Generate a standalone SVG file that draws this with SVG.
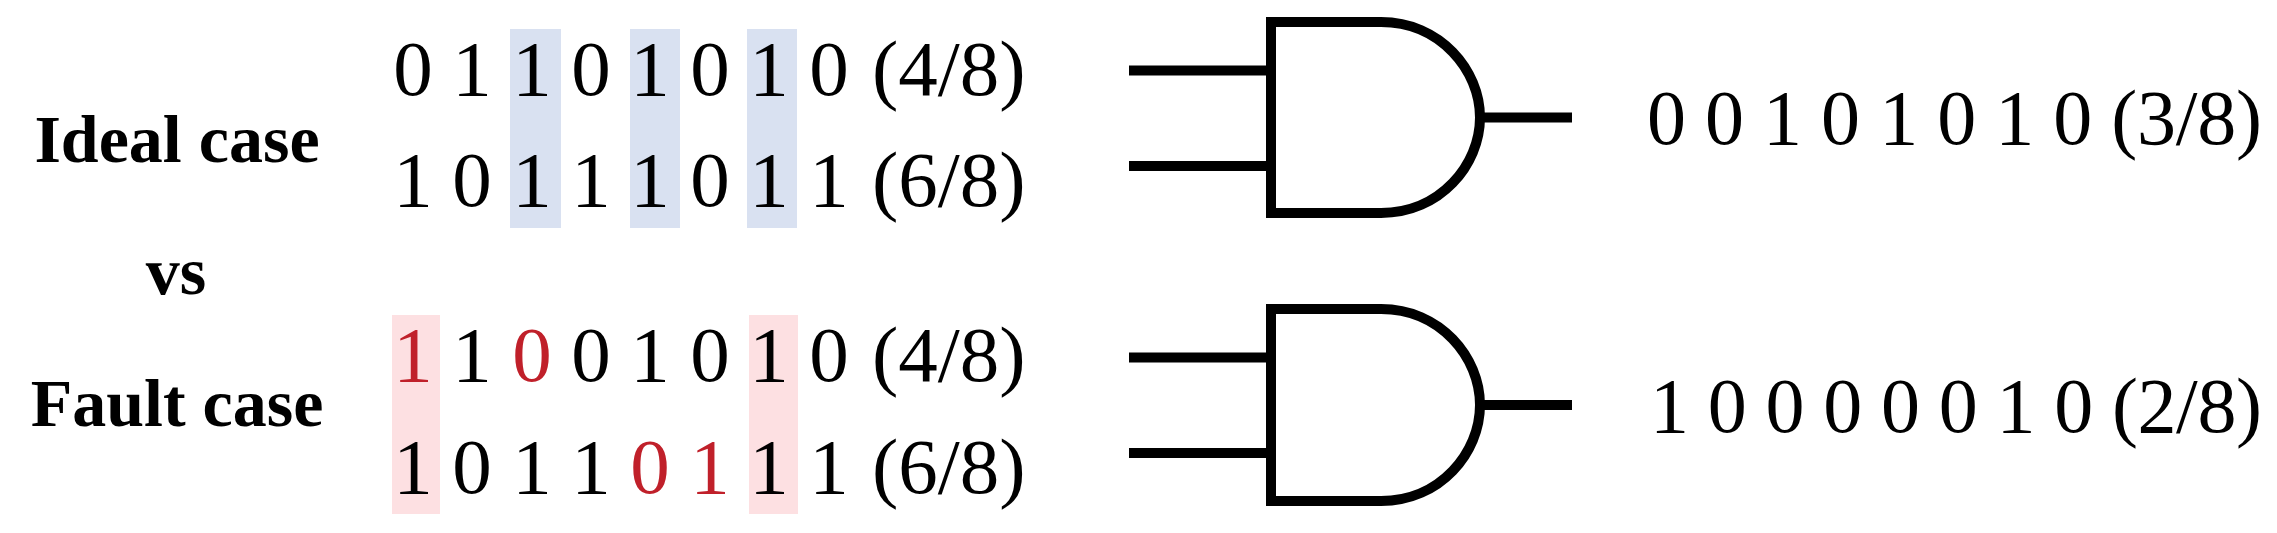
<svg xmlns="http://www.w3.org/2000/svg" width="2277" height="533" viewBox="0 0 2277 533">
<style>
.lbl{font-family:"Liberation Serif","Times New Roman",serif;font-weight:bold;font-size:68px;fill:#000;text-anchor:middle}
.d{font-family:"Liberation Serif","Times New Roman",serif;font-size:79px;fill:#000;text-anchor:middle}
.f{font-family:"Liberation Serif","Times New Roman",serif;font-size:79px;fill:#000}
.o{font-family:"Liberation Serif","Times New Roman",serif;font-size:78px;fill:#000}
.r{fill:#c0202a}
.hb{fill:#d9e1f1}
.hr{fill:#fde0e2}
.g{fill:none;stroke:#000;stroke-width:10}
</style>
<g id="highlights">
<rect class="hb" x="510" y="29" width="51" height="199"/>
<rect class="hb" x="630" y="29" width="50" height="199"/>
<rect class="hb" x="747" y="29" width="50" height="199"/>
<rect class="hr" x="392" y="315" width="48" height="199"/>
<rect class="hr" x="749" y="315" width="49" height="199"/>
</g>
<g id="labels">
<text class="lbl" x="177" y="162">Ideal case</text>
<text class="lbl" x="176" y="294">vs</text>
<text class="lbl" x="177" y="426">Fault case</text>
</g>
<g id="row1">
<text class="d" x="413" y="95">0</text><text class="d" x="472" y="95">1</text><text class="d" x="532" y="95">1</text><text class="d" x="591" y="95">0</text><text class="d" x="650" y="95">1</text><text class="d" x="710" y="95">0</text><text class="d" x="769" y="95">1</text><text class="d" x="829" y="95">0</text>
<text class="f" x="872" y="95">(4/8)</text>
</g>
<g id="row2">
<text class="d" x="413" y="206">1</text><text class="d" x="472" y="206">0</text><text class="d" x="532" y="206">1</text><text class="d" x="591" y="206">1</text><text class="d" x="650" y="206">1</text><text class="d" x="710" y="206">0</text><text class="d" x="769" y="206">1</text><text class="d" x="829" y="206">1</text>
<text class="f" x="872" y="206">(6/8)</text>
</g>
<g id="row3">
<text class="d r" x="413" y="381">1</text><text class="d" x="472" y="381">1</text><text class="d r" x="532" y="381">0</text><text class="d" x="591" y="381">0</text><text class="d" x="650" y="381">1</text><text class="d" x="710" y="381">0</text><text class="d" x="769" y="381">1</text><text class="d" x="829" y="381">0</text>
<text class="f" x="872" y="381">(4/8)</text>
</g>
<g id="row4">
<text class="d" x="413" y="493">1</text><text class="d" x="472" y="493">0</text><text class="d" x="532" y="493">1</text><text class="d" x="591" y="493">1</text><text class="d r" x="650" y="493">0</text><text class="d r" x="710" y="493">1</text><text class="d" x="769" y="493">1</text><text class="d" x="829" y="493">1</text>
<text class="f" x="872" y="493">(6/8)</text>
</g>
<g id="gate1">
<path class="g" d="M1271 22 H1381 C1440 22 1480 70 1480 117.5 C1480 165 1440 213 1381 213 H1271 Z"/>
</g>
<g id="gate2">
<path class="g" d="M1271 309 H1381 C1440 309 1480 357 1480 405 C1480 453 1440 501 1381 501 H1271 Z"/>
</g>
<g id="connectors">
<line class="g" x1="1129" y1="70.5" x2="1271" y2="70.5"/>
<line class="g" x1="1129" y1="166" x2="1271" y2="166"/>
<line class="g" x1="1480" y1="117.5" x2="1572" y2="117.5"/>
<line class="g" x1="1129" y1="357.5" x2="1271" y2="357.5"/>
<line class="g" x1="1129" y1="453" x2="1271" y2="453"/>
<line class="g" x1="1480" y1="405" x2="1572" y2="405"/>
</g>
<g id="outputs">
<text class="o" x="1647" y="144" textLength="615">0 0 1 0 1 0 1 0 (3/8)</text>
<text class="o" x="1650" y="432" textLength="612">1 0 0 0 0 0 1 0 (2/8)</text>
</g>
</svg>
